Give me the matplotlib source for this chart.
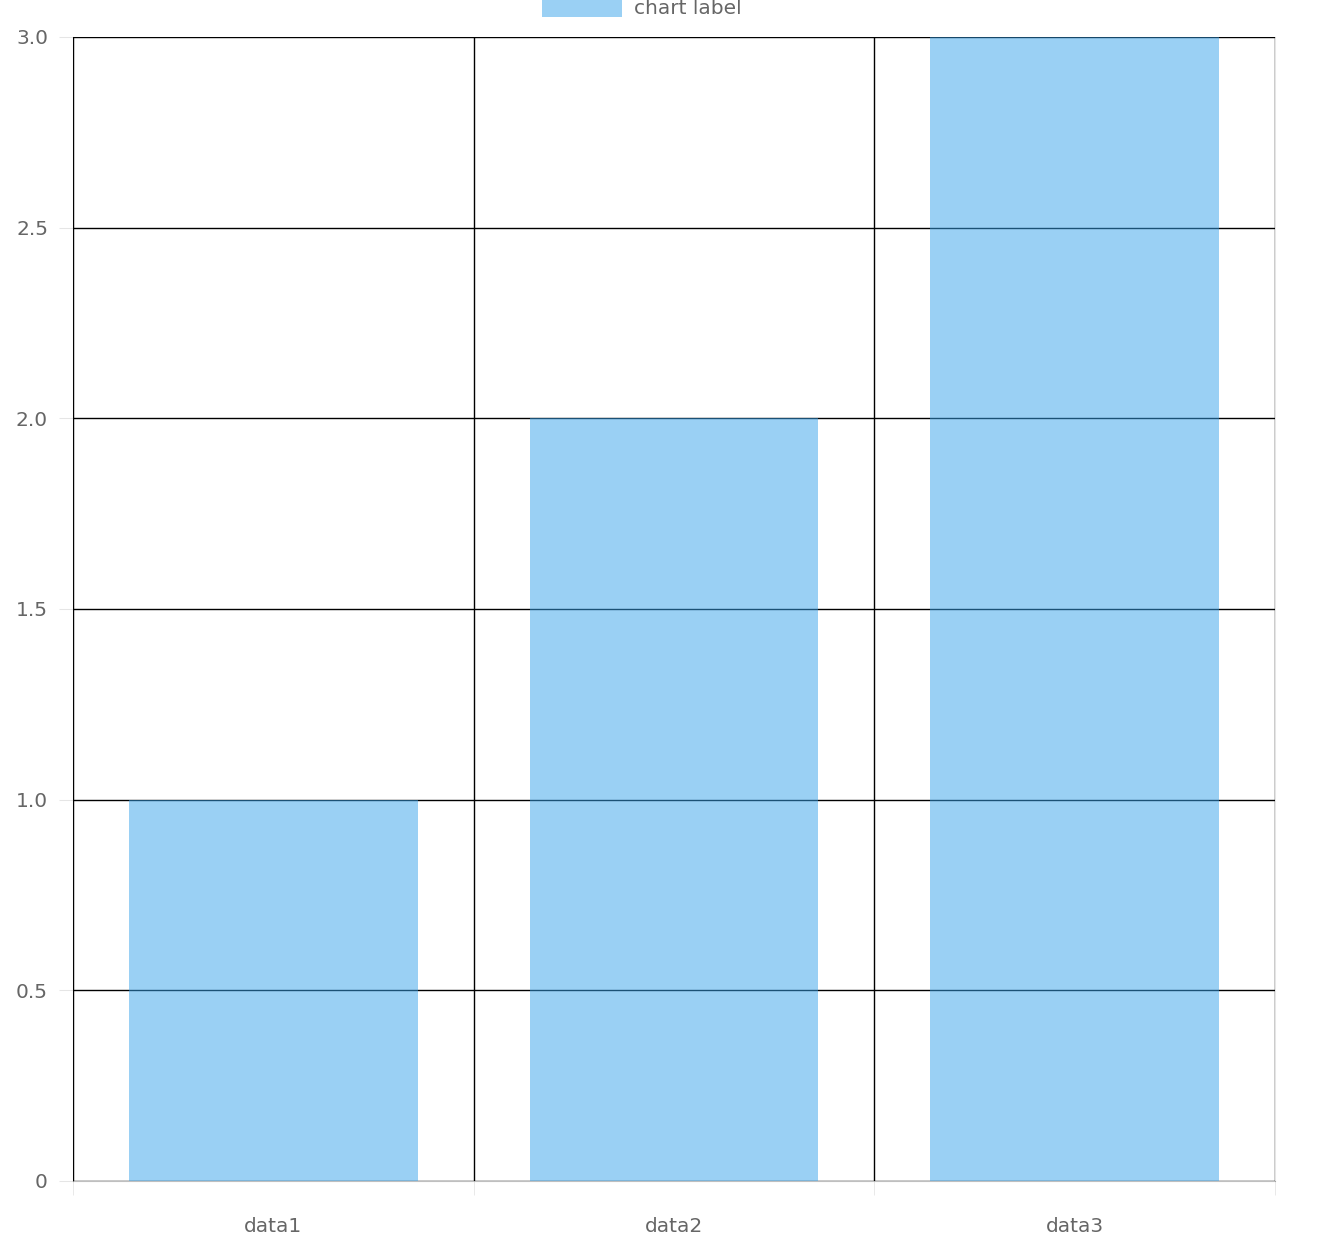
import matplotlib.pyplot as plt
from matplotlib.patches import Rectangle
from matplotlib.ticker import FuncFormatter, FixedLocator

categories = ["data1", "data2", "data3"]
values = [1, 2, 3]
series_label = "chart label"

fill = (54/255, 162/255, 235/255, 0.5)
grid = (0, 0, 0, 0.1)
txt = "#666666"

fig = plt.figure(figsize=(13.18, 12.48), dpi=100)
ax = fig.add_axes([73/1318, 1 - 1181/1248, (1275-73)/1318, (1181-37)/1248])

x = range(len(categories))
ax.bar(x, values, width=0.72, color=fill, linewidth=0)
ax.set_xlim(-0.5, len(categories) - 0.5)
ax.set_ylim(0, 3)

ax.set_xticks(list(x))
ax.set_xticklabels(categories)
ax.xaxis.set_minor_locator(FixedLocator([i - 0.5 for i in range(len(categories) + 1)]))
ax.tick_params(axis="x", which="major", length=0, pad=26, labelsize=14.5, labelcolor=txt)
ax.tick_params(axis="x", which="minor", length=10, color=grid)
ax.set_yticks([0, 0.5, 1, 1.5, 2, 2.5, 3])
ax.yaxis.set_major_formatter(FuncFormatter(lambda v, p: "0" if v == 0 else f"{v:.1f}"))
ax.tick_params(axis="y", length=10, color=grid, pad=8, labelsize=14.5, labelcolor=txt)

ax.grid(axis="y", color=grid, linewidth=1)
ax.grid(axis="x", which="minor", color=grid, linewidth=1)
ax.set_axisbelow(True)
for s in ax.spines.values():
    s.set_color(grid)
ax.spines["left"].set_color((0, 0, 0, 0.25))
ax.spines["bottom"].set_color((0, 0, 0, 0.25))

# legend (partly cut off at top)
fig.patches.append(Rectangle((542/1318, 1 - 17/1248), 80/1318, 30/1248,
                             transform=fig.transFigure, color=fill, linewidth=0))
fig.text(634/1318, 1 - 8/1248, series_label, fontsize=14.5, color=txt, va="center")

fig.savefig("out.png", dpi=100)
